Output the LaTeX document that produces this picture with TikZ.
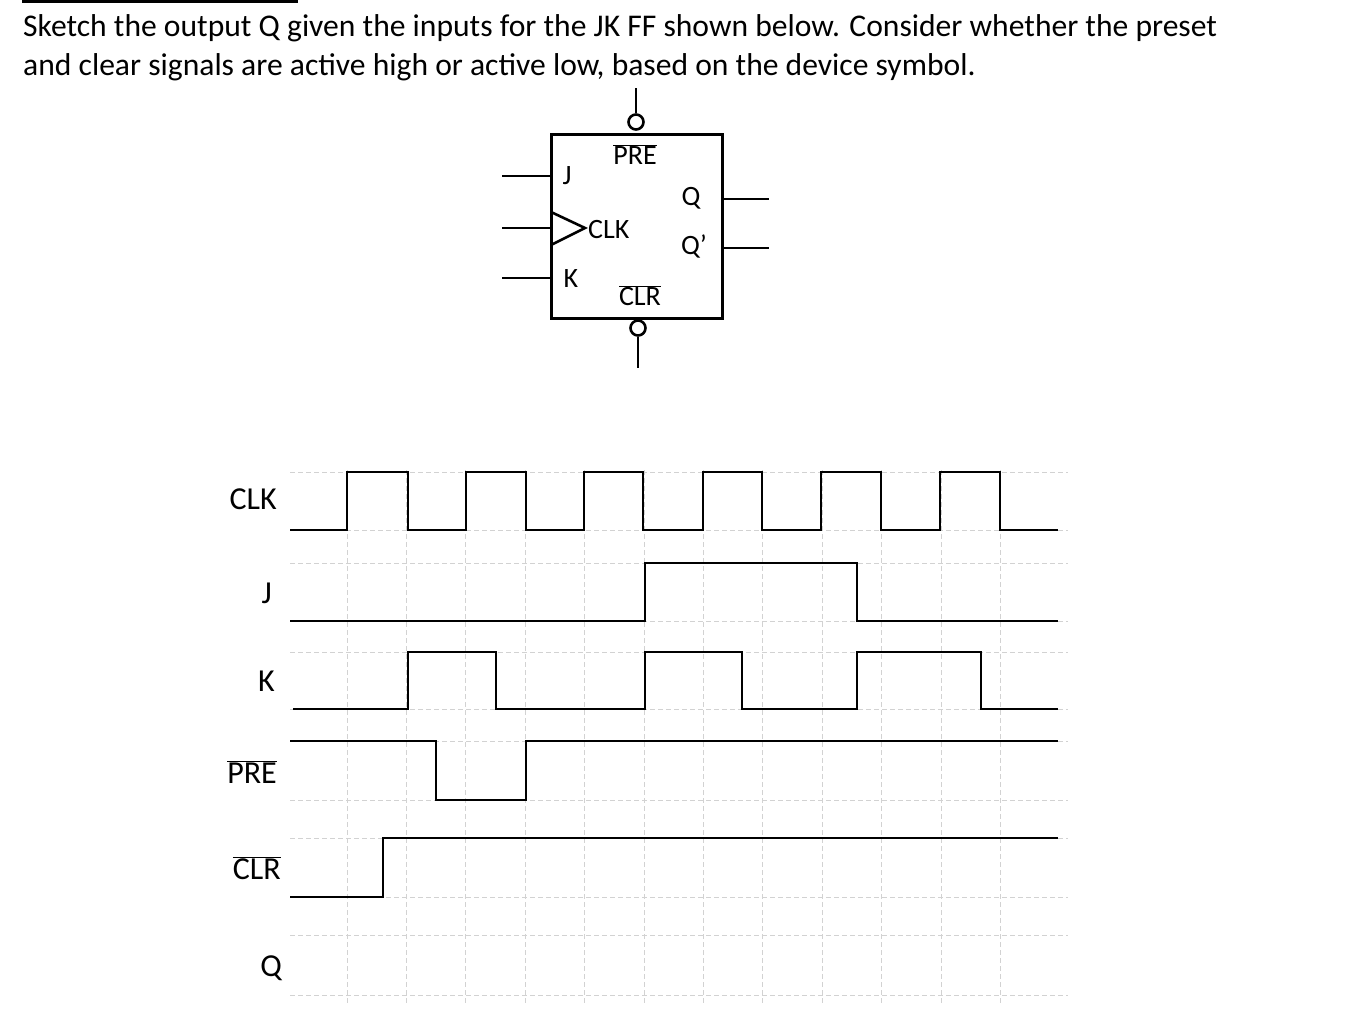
\documentclass[tikz,border=0pt]{standalone}
\usepackage{fontspec}
\setmainfont{Carlito}
\begin{document}
\begin{tikzpicture}[x=1pt,y=-1pt,
  wave/.style={line width=2.6pt,line join=miter},
  grid/.style={gray!35,dashed,line width=0.8pt,dash pattern=on 5pt off 3pt},
  lbl/.style={font=\fontsize{32}{36}\selectfont,anchor=east,inner sep=0},
  ff/.style={font=\fontsize{28}{32}\selectfont,inner sep=0},
  pin/.style={line width=2.6pt}]
\useasboundingbox (0,0) rectangle (1359,1034);
\draw[line width=3pt] (22,1) -- (298,1);
\node[anchor=north west,align=left,inner sep=0,font=\fontsize{31.6}{39}\selectfont] (title) at (23,14)
 {Sketch the output Q given the inputs for the JK FF shown below. Consider whether the preset\\and clear signals are active high or active low, based on the device symbol.};
% flip-flop
\node[draw,line width=3pt,minimum width=171pt,minimum height=184pt,inner sep=0] (box) at (636.5,226) {};
\coordinate (jin) at (502,176); \coordinate (jb) at (551,176);
\coordinate (cin) at (502,228); \coordinate (cb) at (551,228);
\coordinate (kin) at (502,278); \coordinate (kb) at (551,278);
\coordinate (qo) at (769,199); \coordinate (qb) at (722,199);
\coordinate (qno) at (769,248); \coordinate (qnb) at (722,248);
\draw[pin] (jin) -- (jb); \draw[pin] (cin) -- (cb); \draw[pin] (kin) -- (kb);
\draw[pin] (qb) -- (qo); \draw[pin] (qnb) -- (qno);
\draw[line width=2.6pt] (551,212) -- (585,228) -- (551,245);
\node[draw,circle,line width=2.6pt,minimum size=15pt,inner sep=0,fill=white] (preb) at (636,122) {};
\coordinate (pretop) at (636,88);
\draw[pin] (preb.north) -- (pretop);
\node[draw,circle,line width=2.6pt,minimum size=15pt,inner sep=0,fill=white] (clrb) at (638,328) {};
\coordinate (clrbot) at (638,368);
\draw[pin] (clrb.south) -- (clrbot);
\node[ff] (lj) at (567,176) {J};
\node[ff,anchor=west] (lclk) at (588,230) {CLK};
\node[ff] (lk) at (571,279) {K};
\node[ff] (lpre) at (635,155) {$\overline{\mbox{PRE}}$};
\node[ff] (lclr) at (640,296) {$\overline{\mbox{CLR}}$};
\node[ff] (lq) at (691,198) {Q};
\node[ff] (lqn) at (694,246) {Q’};
% grid
\foreach \y in {472,530,563,621,652,709,741,800,838,897,935,995}
  \draw[grid] (290,\y) -- (1068,\y);
\foreach \k in {0,...,11}
  \draw[grid] ({347+59.4*\k},470) -- ({347+59.4*\k},1005);
% labels
\node[lbl] (tclk) at (277,499) {CLK};
\node[lbl] (tj) at (272,593) {J};
\node[lbl] (tk) at (275,681) {K};
\node[lbl] (tpre) at (277,772) {$\overline{\mbox{PRE}}$};
\node[lbl] (tclr) at (281,868) {$\overline{\mbox{CLR}}$};
\node[lbl] (tq) at (282,968) {Q};
% waves
\draw[wave] (290,530) -- (347,530) -- (347,472) -- (408,472) -- (408,530)
  -- (466,530) -- (466,472) -- (526,472) -- (526,530)
  -- (584,530) -- (584,472) -- (643,472) -- (643,530)
  -- (703,530) -- (703,472) -- (762,472) -- (762,530)
  -- (821,530) -- (821,472) -- (881,472) -- (881,530)
  -- (940,530) -- (940,472) -- (1000,472) -- (1000,530) -- (1058,530);
\draw[wave] (290,621) -- (645,621) -- (645,563) -- (857,563) -- (857,621) -- (1058,621);
\draw[wave] (293,709) -- (408,709) -- (408,652) -- (496,652) -- (496,709)
  -- (645,709) -- (645,652) -- (742,652) -- (742,709)
  -- (857,709) -- (857,652) -- (981,652) -- (981,709) -- (1058,709);
\draw[wave] (290,741) -- (436,741) -- (436,800) -- (526,800) -- (526,741) -- (1058,741);
\draw[wave] (290,897) -- (383,897) -- (383,838) -- (1058,838);
\end{tikzpicture}
\end{document}
